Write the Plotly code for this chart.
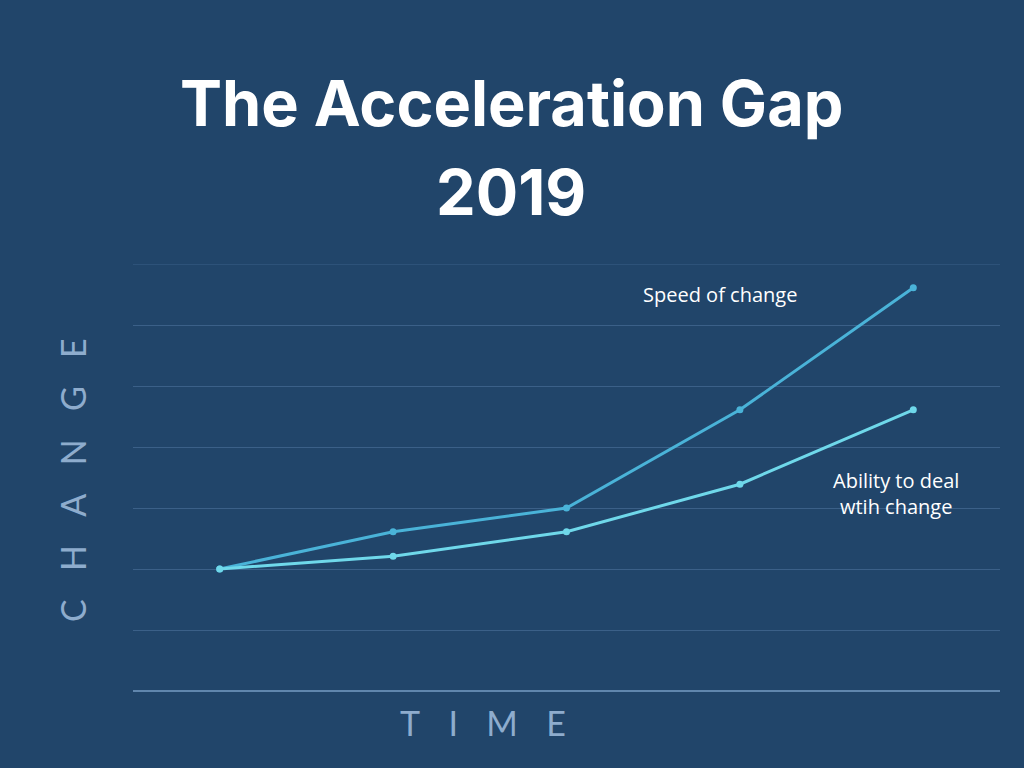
import plotly.graph_objects as go

time_points = [0, 1, 2, 3, 4]
speed_of_change = [2.0, 2.61, 3.0, 4.61, 6.61]
ability_to_deal = [2.0, 2.21, 2.61, 3.39, 4.61]
y_grid_top = 7

BG = "#21456a"
SPEED_C = "#4ab3d8"
ABILITY_C = "#6fd8ea"
GRID_C = "#3b6088"
AXIS_C = "#6086ad"
MUTED = "#8eaccd"

fig = go.Figure()
fig.add_trace(go.Scatter(x=time_points, y=speed_of_change, mode="lines+markers",
                         line=dict(color=SPEED_C, width=3), marker=dict(size=7, color=SPEED_C),
                         name="Speed of change", hoverinfo="skip"))
fig.add_trace(go.Scatter(x=time_points, y=ability_to_deal, mode="lines+markers",
                         line=dict(color=ABILITY_C, width=3), marker=dict(size=7, color=ABILITY_C),
                         name="Ability to deal wtih change", hoverinfo="skip"))

fig.update_layout(
    width=1024, height=768,
    paper_bgcolor=BG, plot_bgcolor=BG,
    margin=dict(l=133, r=24, t=264, b=77),
    showlegend=False,
    xaxis=dict(range=[-0.5, 4.5], showgrid=False, zeroline=False, showticklabels=False,
               showline=False, fixedrange=True),
    yaxis=dict(range=[0, y_grid_top], dtick=1, showgrid=True, gridcolor=GRID_C, gridwidth=1,
               zeroline=True, zerolinecolor=AXIS_C, zerolinewidth=1.5,
               showticklabels=False, showline=False, fixedrange=True),
    shapes=[dict(type="line", xref="paper", yref="y", x0=0, x1=1, y0=y_grid_top, y1=y_grid_top,
                 line=dict(color=GRID_C, width=1), layer="below")],
)

def paper_xy(px, py):
    return (px - 133) / (1024 - 133 - 24), (768 - 77 - py) / (768 - 264 - 77)

annotations = []
x, y = paper_xy(511, 103)
annotations.append(dict(text="<b>The Acceleration Gap</b>", x=x, y=y, xref="paper", yref="paper",
                        xanchor="center", yanchor="middle", showarrow=False,
                        font=dict(family="Inter", size=63, color="white")))
x, y = paper_xy(511, 192)
annotations.append(dict(text="<b>2019</b>", x=x, y=y, xref="paper", yref="paper",
                        xanchor="center", yanchor="middle", showarrow=False,
                        font=dict(family="Inter", size=63, color="white")))
x, y = paper_xy(720, 294)
annotations.append(dict(text="Speed of change", x=x, y=y, xref="paper", yref="paper",
                        xanchor="center", yanchor="middle", showarrow=False,
                        font=dict(family="Open Sans", size=20, color="white")))
x, y = paper_xy(896, 493)
annotations.append(dict(text="Ability to deal<br>wtih change", x=x, y=y, xref="paper", yref="paper",
                        xanchor="center", yanchor="middle", showarrow=False, align="center",
                        font=dict(family="Open Sans", size=20, color="white")))
sp = "\u2002\u2004"
x, y = paper_xy(483, 722)
annotations.append(dict(text=sp.join("TIME"), x=x, y=y, xref="paper", yref="paper",
                        xanchor="center", yanchor="middle", showarrow=False,
                        font=dict(family="Lato", size=34, color=MUTED, weight=400)))
x, y = paper_xy(72, 480)
annotations.append(dict(text=sp.join("CHANGE"), x=x, y=y,
                        xref="paper", yref="paper", textangle=-90,
                        xanchor="center", yanchor="middle", showarrow=False,
                        font=dict(family="Lato", size=34, color=MUTED, weight=400)))
fig.update_layout(annotations=annotations)

fig.write_html("out.html")
